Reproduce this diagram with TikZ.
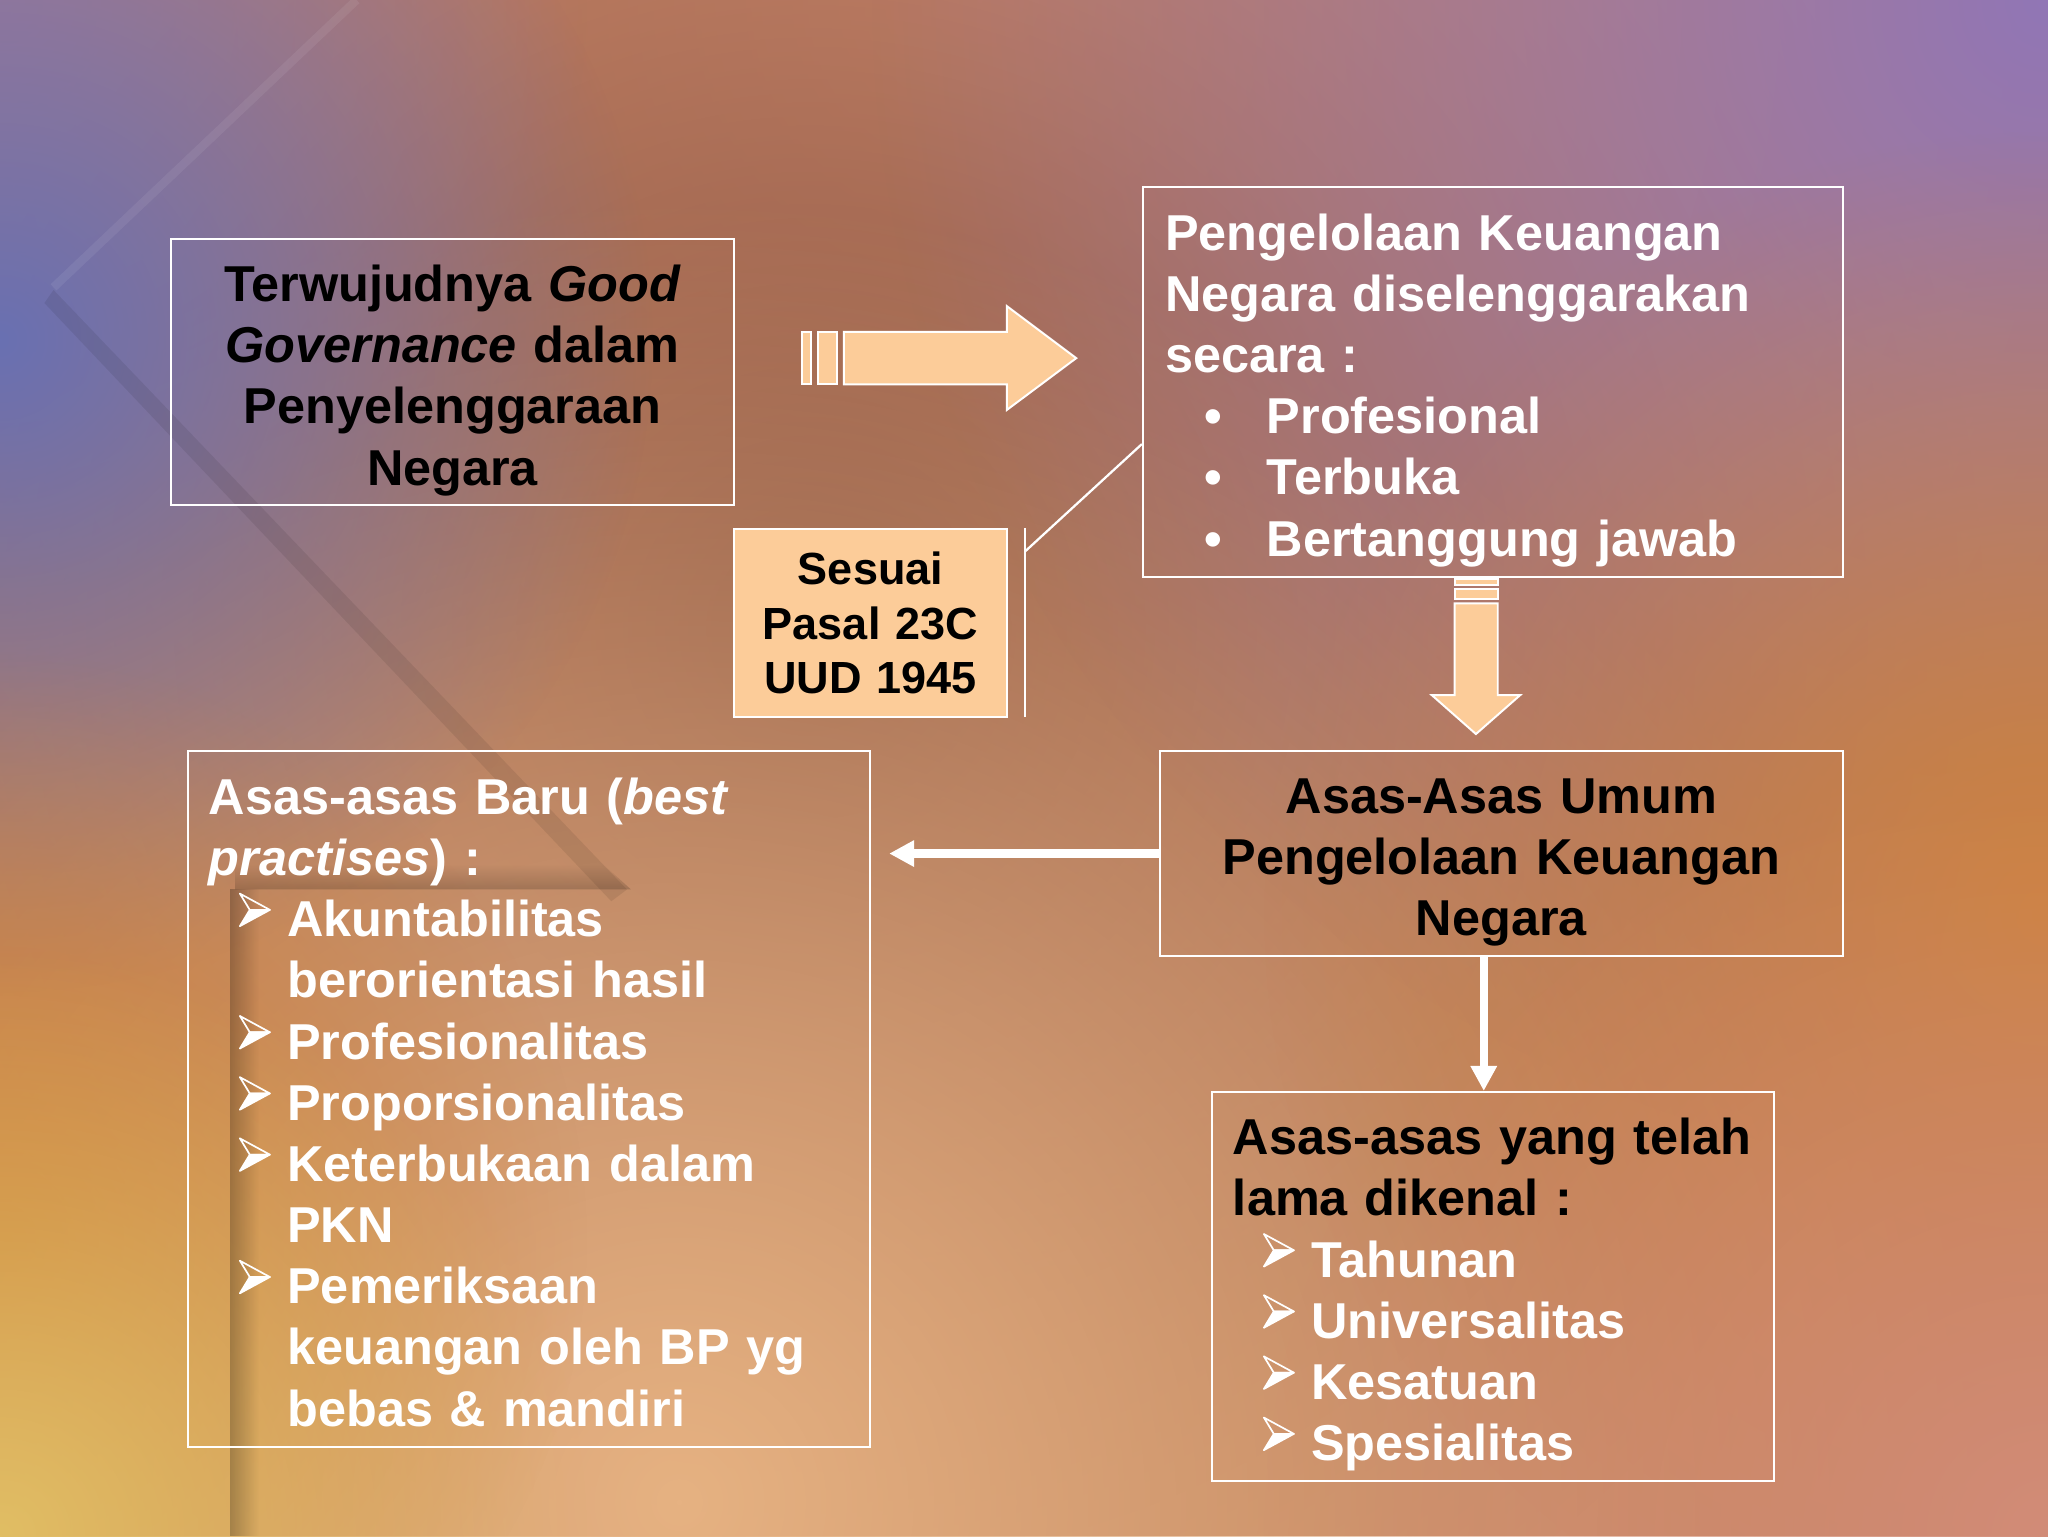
\documentclass[tikz,border=0pt]{standalone}
\usepackage{fontspec}
\setmainfont{Liberation Sans}
\usetikzlibrary{arrows.meta,calc,fadings}

\newdimen\pxu \pxu=0.0162cm
\newcommand{\slidefont}{\fontsize{17.8}{21.6}\selectfont\bfseries}
\newcommand{\notefont}{\fontsize{15.9}{19.2}\selectfont\bfseries}
\newcommand{\topstrut}{\rule{0pt}{18.9pt}}
\newcommand{\botstrut}{\rule[-4pt]{0pt}{4pt}\par}
\newcommand{\arrowglyph}{\tikz[baseline=0pt,x=1pt,y=1pt]{%
    \draw[white,line width=0.6pt,line join=round] (0,15.2) -- (10.6,9.45) -- (3.5,9.45) -- cycle;
    \filldraw[white,line width=0.6pt,line join=round] (3.5,9.45) -- (10.6,9.45) -- (0,3.7) -- cycle;}}
\newcommand{\dotitem}{\hspace*{30\pxu}\makebox[48\pxu][l]{\textbullet}}
\newcommand{\arritem}{\hspace*{23\pxu}\makebox[37\pxu][l]{\arrowglyph}}
\newcommand{\arrgap}{\hspace*{60\pxu}}

\definecolor{peach}{RGB}{252,204,153}
\definecolor{bgbase}{RGB}{190,125,90}
\definecolor{bgpink}{RGB}{218,148,120}
\definecolor{bgviolet}{RGB}{145,118,182}
\definecolor{bgblue}{RGB}{105,112,178}
\definecolor{bgmauve}{RGB}{175,125,140}
\definecolor{bgbrown}{RGB}{145,90,70}
\definecolor{bglight}{RGB}{230,178,130}
\definecolor{bgyellow}{RGB}{225,190,100}
\definecolor{bgorange}{RGB}{205,130,60}
\definecolor{bgrose}{RGB}{210,140,120}

\tikzfading[name=glow, inner color=transparent!0, outer color=transparent!100]

\begin{document}
\begin{tikzpicture}[
    x=\pxu, y=-\pxu,
    box/.style={draw=white, line width=0.7pt, inner sep=0pt, font=\slidefont},
    ctrbox/.style={box, align=center},
    lftbox/.style={box, align=left},
    notebox/.style={box, fill=peach, font=\notefont, align=center},
    blockarrow/.style={fill=peach, draw=white, line width=0.7pt},
    flow/.style={draw=white, line width=3pt, -{Triangle[length=0.31cm, width=0.31cm]}},
    callout/.style={draw=white, line width=0.8pt}]
\useasboundingbox (0,0) rectangle (1568,1176);

% background
\begin{scope}
\clip (0,0) rectangle (1568,1176);
\fill[bgbase] (0,0) rectangle (1568,1176);
\fill[bgpink, path fading=glow] (750,0) circle (1000);
\fill[bgbrown, path fading=glow] (620,480) circle (900);
\fill[bglight, path fading=glow] (520,1150) circle (1000);
\fill[bgviolet, path fading=glow] (1568,0) circle (900);
\fill[bgorange, path fading=glow] (1568,700) circle (600);
\fill[bgrose, path fading=glow] (1568,1176) circle (600);
\fill[bgmauve, path fading=glow] (0,0) circle (450);
\fill[bgblue, path fading=glow] (0,260) circle (500);
\fill[bgorange, path fading=glow] (0,950) circle (450);
\fill[bgyellow, path fading=glow] (0,1176) circle (450);
% folded sheet
\draw[white, opacity=0.07, line width=3pt] (273,0) -- (41,220);
\fill[black, opacity=0.08] (41,222) -- (480,681) -- (468,690) -- (34,232) -- cycle;
\fill[black, opacity=0.18, path fading=north] (180,662) -- (462,662) -- (483,681) -- (180,681) -- cycle;
\fill[black, opacity=0.25, path fading=east] (176,681) rectangle (198,1176);
\end{scope}

\node[ctrbox, text width=431\pxu, minimum height=204\pxu] (gg) at (346.5,285)
    {\topstrut Terwujudnya \textit{Good}\\ \textit{Governance} dalam\\ Penyelenggaraan\\ Negara\botstrut};
\node[lftbox, text=white, text width=536\pxu, minimum height=299\pxu] (pkn) at (1143,292.5)
    {\leftskip=17\pxu\topstrut Pengelolaan Keuangan\\ Negara diselenggarakan\\ secara :\\
     \dotitem Profesional\\ \dotitem Terbuka\\ \dotitem Bertanggung jawab\botstrut};
\node[notebox, text width=209\pxu, minimum height=144\pxu] (sesuai) at (666.5,477)
    {Sesuai\\ Pasal 23C\\ UUD 1945};
\node[ctrbox, text width=523\pxu, minimum height=157\pxu] (asum) at (1149.5,653.5)
    {\topstrut Asas-Asas Umum\\ Pengelolaan Keuangan\\ Negara\botstrut};
\node[lftbox, text=white, text width=522\pxu, minimum height=533\pxu] (asbaru) at (405,841.5)
    {\leftskip=16\pxu\topstrut Asas-asas Baru (\textit{best}\\ \textit{practises}) :\\
     \arritem Akuntabilitas\\ \arrgap berorientasi hasil\\
     \arritem Profesionalitas\\ \arritem Proporsionalitas\\
     \arritem Keterbukaan dalam\\ \arrgap PKN\\
     \arritem Pemeriksaan\\ \arrgap keuangan oleh BP yg\\ \arrgap bebas \& mandiri\botstrut};
\node[lftbox, text width=430\pxu, minimum height=298\pxu] (aslama) at (1143,985)
    {\leftskip=16\pxu\topstrut Asas-asas yang telah\\ lama dikenal :\\
     \arritem \textcolor{white}{Tahunan}\\ \arritem \textcolor{white}{Universalitas}\\
     \arritem \textcolor{white}{Kesatuan}\\ \arritem \textcolor{white}{Spesialitas}\botstrut};

% block arrows
\filldraw[blockarrow] (613.8,254) rectangle (621,294.2);
\filldraw[blockarrow] (626.6,254) rectangle (641.1,294.2);
\filldraw[blockarrow] (646,254) -- (770.8,254) -- (770.8,234.3) -- (824,274.2)
    -- (770.8,313.9) -- (770.8,294.2) -- (646,294.2) -- cycle;
\filldraw[blockarrow] (1113.6,443.6) rectangle (1146.7,448);
\filldraw[blockarrow] (1113.6,451.2) rectangle (1146.7,458.9);
\filldraw[blockarrow] (1113.6,462) -- (1113.6,532.2) -- (1096.2,532.2) -- (1130,562)
    -- (1163.9,532.2) -- (1146.7,532.2) -- (1146.7,462) -- cycle;

% callout
\coordinate (bartop) at ($(sesuai.north east)+(13,0)$);
\coordinate (barbot) at ($(sesuai.south east)+(13,-1)$);
\coordinate (knee) at ($(bartop)+(0,18)$);
\draw[callout] (bartop) -- (barbot);
\draw[callout] (knee) -- ($(pkn.west)+(0,47.5)$);

% connectors
\draw[flow] (asum.west) -- ($(asum.west -| asbaru.east)+(14,0)$);
\coordinate (drop) at ($(asum.south)+(-13.5,0)$);
\draw[flow] (drop) -- (drop |- aslama.north);

\end{tikzpicture}
\end{document}
